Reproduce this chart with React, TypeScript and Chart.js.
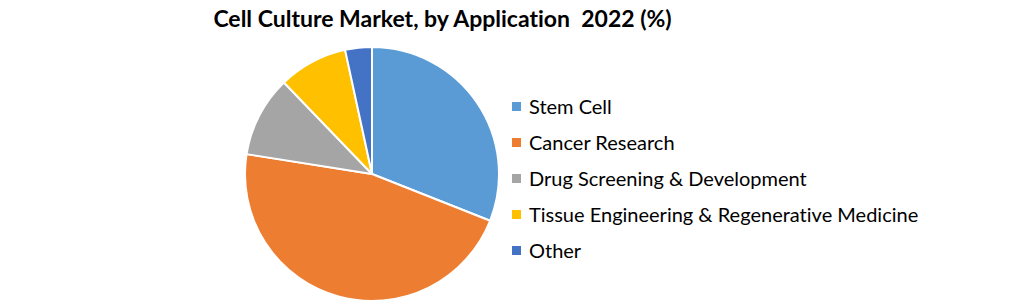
import React, { useEffect, useRef } from "react";
import { Chart, registerables } from "chart.js";

Chart.register(...registerables);

const title = "Cell Culture Market, by Application  2022 (%)";
const categories = [
  "Stem Cell",
  "Cancer Research",
  "Drug Screening & Development",
  "Tissue Engineering & Regenerative Medicine",
  "Other",
];
const shares = [31.0, 46.5, 10.3, 8.8, 3.4];
const colors = ["#5B9BD5", "#ED7D31", "#A5A5A5", "#FFC000", "#4472C4"];

export default function App() {
  const canvasRef = useRef<HTMLCanvasElement | null>(null);

  useEffect(() => {
    document.body.style.margin = "0";
    const canvas = canvasRef.current;
    if (!canvas) return;
    const chart = new Chart(canvas, {
      type: "pie",
      data: {
        labels: categories,
        datasets: [
          {
            data: shares,
            backgroundColor: colors,
            borderColor: "#ffffff",
            borderWidth: 2,
          },
        ],
      },
      options: {
        animation: false,
        responsive: false,
        maintainAspectRatio: false,
        layout: { padding: 0 },
        plugins: {
          legend: { display: false },
          title: { display: false },
          tooltip: { enabled: false },
        },
      },
    });
    return () => chart.destroy();
  }, []);

  const font = "Lato, 'Open Sans', sans-serif";

  return (
    <div
      style={{
        position: "fixed",
        left: 0,
        top: 0,
        width: 1021,
        height: 304,
        background: "#ffffff",
        overflow: "hidden",
      }}
    >
      <div
        style={{
          position: "absolute",
          left: 0,
          width: 885,
          top: 4,
          textAlign: "center",
          fontFamily: font,
          fontWeight: 700,
          fontSize: 23,
          color: "#000",
          whiteSpace: "pre",
          fontVariantLigatures: "none",
        }}
      >
        {title}
      </div>
      <canvas
        ref={canvasRef}
        width={256}
        height={256}
        style={{ position: "absolute", left: 244, top: 46, width: 256, height: 256 }}
      />
      <div style={{ position: "absolute", left: 512, top: 88 }}>
        {categories.map((c, i) => (
          <div
            key={c}
            style={{
              height: 36,
              display: "flex",
              alignItems: "center",
              fontFamily: font,
              fontSize: 20,
              color: "#000",
              whiteSpace: "nowrap",
              fontVariantLigatures: "none",
            }}
          >
            <span
              style={{
                display: "inline-block",
                width: 9,
                height: 9,
                background: colors[i],
                marginRight: 8,
              }}
            />
            {c}
          </div>
        ))}
      </div>
    </div>
  );
}
